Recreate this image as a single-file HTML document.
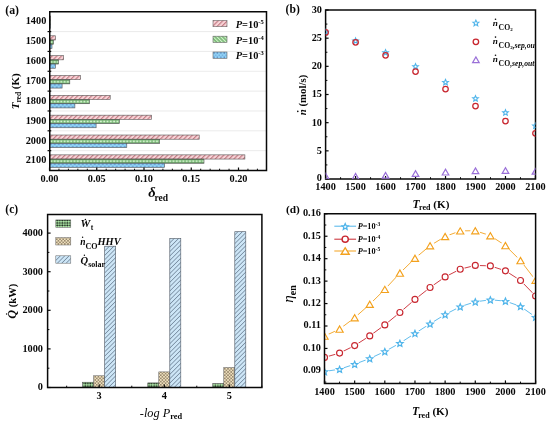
<!DOCTYPE html>
<html><head><meta charset="utf-8"><style>html,body{margin:0;padding:0;background:#fff;width:550px;height:424px;overflow:hidden}svg{display:block;filter:blur(0.4px);font-family:"Liberation Serif",serif}</style></head><body>
<svg width="550" height="424" viewBox="0 0 550 424" font-family="Liberation Serif">
<defs>
<pattern id="pinkH" patternUnits="userSpaceOnUse" width="3.3" height="3.3" patternTransform="rotate(45)"><rect width="3.3" height="3.3" fill="#f9d4d8"/><rect x="0" width="1.2" height="3.3" fill="#c27d85"/></pattern>
<pattern id="greenH" patternUnits="userSpaceOnUse" width="3.2" height="3.2" patternTransform="rotate(-45)"><rect width="3.2" height="3.2" fill="#8fcf8c"/><rect x="0" width="1.2" height="3.2" fill="#c9ecc4"/><rect x="0" y="0" width="3.2" height="0.9" fill="#5c9b5a"/></pattern>
<pattern id="blueD" patternUnits="userSpaceOnUse" width="4" height="3"><rect width="4" height="3" fill="#6cb8ee"/><circle cx="1" cy="1.2" r="0.6" fill="#2c5f9a"/><circle cx="3" cy="2.4" r="0.5" fill="#3a73b3"/></pattern>
<pattern id="greenL" patternUnits="userSpaceOnUse" width="2.7" height="2.7" patternTransform="rotate(-45)"><rect width="2.7" height="2.7" fill="#7dbb7a"/><rect x="0" width="1.0" height="2.7" fill="#d4f3cc"/></pattern>
<pattern id="blueL" patternUnits="userSpaceOnUse" x="213" y="52" width="3.4" height="6.3"><rect width="3.4" height="6.3" fill="#8fd0f4"/><circle cx="1" cy="0.9" r="0.6" fill="#2d4f9c"/><circle cx="2.7" cy="3.2" r="0.5" fill="#4a6fb0"/><circle cx="1" cy="5.4" r="0.6" fill="#2d4f9c"/></pattern>
<pattern id="cGreen" patternUnits="userSpaceOnUse" width="2.55" height="2.55"><rect width="2.55" height="2.55" fill="#b3eeac"/><rect x="0" y="0.7" width="2.55" height="0.7" fill="#344a34"/><rect x="0.75" y="0" width="0.5" height="2.55" fill="#4a5f4a"/><rect x="0.55" y="0.5" width="1.1" height="1.1" fill="#0a140a"/></pattern>
<pattern id="cTan" patternUnits="userSpaceOnUse" width="3.2" height="3.2"><rect width="3.2" height="3.2" fill="#f0e2bf"/><rect x="0" y="0" width="1.6" height="1.6" fill="#9a8a70"/><rect x="1.6" y="1.6" width="1.6" height="1.6" fill="#9a8a70"/></pattern>
<pattern id="cBlue" patternUnits="userSpaceOnUse" width="3.1" height="3.1" patternTransform="rotate(45)"><rect width="3.1" height="3.1" fill="#cde6f7"/><rect x="0" width="0.6" height="3.1" fill="#5f7388"/></pattern>
<clipPath id="clipB"><rect x="325.6" y="10" width="209.9" height="169"/></clipPath>
<clipPath id="clipD"><rect x="324.5" y="213.8" width="211.1" height="169.6"/></clipPath>
</defs>
<rect width="550" height="424" fill="#ffffff"/>
<line x1="49.75" y1="31.59" x2="266.5" y2="31.59" stroke="#e2e2e2" stroke-width="0.7" />
<line x1="49.75" y1="51.44" x2="266.5" y2="51.44" stroke="#e2e2e2" stroke-width="0.7" />
<line x1="49.75" y1="71.28" x2="266.5" y2="71.28" stroke="#e2e2e2" stroke-width="0.7" />
<line x1="49.75" y1="91.12" x2="266.5" y2="91.12" stroke="#e2e2e2" stroke-width="0.7" />
<line x1="49.75" y1="110.97" x2="266.5" y2="110.97" stroke="#e2e2e2" stroke-width="0.7" />
<line x1="49.75" y1="130.81" x2="266.5" y2="130.81" stroke="#e2e2e2" stroke-width="0.7" />
<line x1="49.75" y1="150.66" x2="266.5" y2="150.66" stroke="#e2e2e2" stroke-width="0.7" />
<pattern id="gk0" patternUnits="userSpaceOnUse" x="49.75" y="20.15" width="3.3" height="4.2"><rect width="3.3" height="4.2" fill="#86c183"/><rect width="3.3" height="0.7" fill="#4f7d4c"/><rect y="3.5" width="3.3" height="0.7" fill="#4f7d4c"/><ellipse cx="1.65" cy="2.1" rx="0.95" ry="0.75" fill="#d8f6d2"/></pattern>
<pattern id="bk0" patternUnits="userSpaceOnUse" x="49.75" y="24.35" width="4" height="4.2"><rect width="4" height="4.2" fill="#8dcff3"/><circle cx="1" cy="0.9" r="0.6" fill="#2d4f9c"/><circle cx="3" cy="3.3" r="0.6" fill="#2d4f9c"/></pattern>
<rect x="49.75" y="15.95" width="0.85" height="4.2" fill="url(#pinkH)" stroke="#555" stroke-width="0.6"/>
<rect x="49.75" y="20.15" width="0.65" height="4.2" fill="url(#gk0)" stroke="#555" stroke-width="0.6"/>
<rect x="49.75" y="24.35" width="0.55" height="4.2" fill="url(#bk0)" stroke="#555" stroke-width="0.6"/>
<pattern id="gk1" patternUnits="userSpaceOnUse" x="49.75" y="39.99" width="3.3" height="4.2"><rect width="3.3" height="4.2" fill="#86c183"/><rect width="3.3" height="0.7" fill="#4f7d4c"/><rect y="3.5" width="3.3" height="0.7" fill="#4f7d4c"/><ellipse cx="1.65" cy="2.1" rx="0.95" ry="0.75" fill="#d8f6d2"/></pattern>
<pattern id="bk1" patternUnits="userSpaceOnUse" x="49.75" y="44.19" width="4" height="4.2"><rect width="4" height="4.2" fill="#8dcff3"/><circle cx="1" cy="0.9" r="0.6" fill="#2d4f9c"/><circle cx="3" cy="3.3" r="0.6" fill="#2d4f9c"/></pattern>
<rect x="49.75" y="35.79" width="5.65" height="4.2" fill="url(#pinkH)" stroke="#555" stroke-width="0.6"/>
<rect x="49.75" y="39.99" width="3.75" height="4.2" fill="url(#gk1)" stroke="#555" stroke-width="0.6"/>
<rect x="49.75" y="44.19" width="2.25" height="4.2" fill="url(#bk1)" stroke="#555" stroke-width="0.6"/>
<pattern id="gk2" patternUnits="userSpaceOnUse" x="49.75" y="59.84" width="3.3" height="4.2"><rect width="3.3" height="4.2" fill="#86c183"/><rect width="3.3" height="0.7" fill="#4f7d4c"/><rect y="3.5" width="3.3" height="0.7" fill="#4f7d4c"/><ellipse cx="1.65" cy="2.1" rx="0.95" ry="0.75" fill="#d8f6d2"/></pattern>
<pattern id="bk2" patternUnits="userSpaceOnUse" x="49.75" y="64.04" width="4" height="4.2"><rect width="4" height="4.2" fill="#8dcff3"/><circle cx="1" cy="0.9" r="0.6" fill="#2d4f9c"/><circle cx="3" cy="3.3" r="0.6" fill="#2d4f9c"/></pattern>
<rect x="49.75" y="55.64" width="13.85" height="4.2" fill="url(#pinkH)" stroke="#555" stroke-width="0.6"/>
<rect x="49.75" y="59.84" width="8.85" height="4.2" fill="url(#gk2)" stroke="#555" stroke-width="0.6"/>
<rect x="49.75" y="64.04" width="5.65" height="4.2" fill="url(#bk2)" stroke="#555" stroke-width="0.6"/>
<pattern id="gk3" patternUnits="userSpaceOnUse" x="49.75" y="79.68" width="3.3" height="4.2"><rect width="3.3" height="4.2" fill="#86c183"/><rect width="3.3" height="0.7" fill="#4f7d4c"/><rect y="3.5" width="3.3" height="0.7" fill="#4f7d4c"/><ellipse cx="1.65" cy="2.1" rx="0.95" ry="0.75" fill="#d8f6d2"/></pattern>
<pattern id="bk3" patternUnits="userSpaceOnUse" x="49.75" y="83.88" width="4" height="4.2"><rect width="4" height="4.2" fill="#8dcff3"/><circle cx="1" cy="0.9" r="0.6" fill="#2d4f9c"/><circle cx="3" cy="3.3" r="0.6" fill="#2d4f9c"/></pattern>
<rect x="49.75" y="75.48" width="30.85" height="4.2" fill="url(#pinkH)" stroke="#555" stroke-width="0.6"/>
<rect x="49.75" y="79.68" width="20.05" height="4.2" fill="url(#gk3)" stroke="#555" stroke-width="0.6"/>
<rect x="49.75" y="83.88" width="12.35" height="4.2" fill="url(#bk3)" stroke="#555" stroke-width="0.6"/>
<pattern id="gk4" patternUnits="userSpaceOnUse" x="49.75" y="99.53" width="3.3" height="4.2"><rect width="3.3" height="4.2" fill="#86c183"/><rect width="3.3" height="0.7" fill="#4f7d4c"/><rect y="3.5" width="3.3" height="0.7" fill="#4f7d4c"/><ellipse cx="1.65" cy="2.1" rx="0.95" ry="0.75" fill="#d8f6d2"/></pattern>
<pattern id="bk4" patternUnits="userSpaceOnUse" x="49.75" y="103.72" width="4" height="4.2"><rect width="4" height="4.2" fill="#8dcff3"/><circle cx="1" cy="0.9" r="0.6" fill="#2d4f9c"/><circle cx="3" cy="3.3" r="0.6" fill="#2d4f9c"/></pattern>
<rect x="49.75" y="95.33" width="60.45" height="4.2" fill="url(#pinkH)" stroke="#555" stroke-width="0.6"/>
<rect x="49.75" y="99.53" width="39.75" height="4.2" fill="url(#gk4)" stroke="#555" stroke-width="0.6"/>
<rect x="49.75" y="103.72" width="25.15" height="4.2" fill="url(#bk4)" stroke="#555" stroke-width="0.6"/>
<pattern id="gk5" patternUnits="userSpaceOnUse" x="49.75" y="119.37" width="3.3" height="4.2"><rect width="3.3" height="4.2" fill="#86c183"/><rect width="3.3" height="0.7" fill="#4f7d4c"/><rect y="3.5" width="3.3" height="0.7" fill="#4f7d4c"/><ellipse cx="1.65" cy="2.1" rx="0.95" ry="0.75" fill="#d8f6d2"/></pattern>
<pattern id="bk5" patternUnits="userSpaceOnUse" x="49.75" y="123.57" width="4" height="4.2"><rect width="4" height="4.2" fill="#8dcff3"/><circle cx="1" cy="0.9" r="0.6" fill="#2d4f9c"/><circle cx="3" cy="3.3" r="0.6" fill="#2d4f9c"/></pattern>
<rect x="49.75" y="115.17" width="101.85" height="4.2" fill="url(#pinkH)" stroke="#555" stroke-width="0.6"/>
<rect x="49.75" y="119.37" width="69.65" height="4.2" fill="url(#gk5)" stroke="#555" stroke-width="0.6"/>
<rect x="49.75" y="123.57" width="46.35" height="4.2" fill="url(#bk5)" stroke="#555" stroke-width="0.6"/>
<pattern id="gk6" patternUnits="userSpaceOnUse" x="49.75" y="139.21" width="3.3" height="4.2"><rect width="3.3" height="4.2" fill="#86c183"/><rect width="3.3" height="0.7" fill="#4f7d4c"/><rect y="3.5" width="3.3" height="0.7" fill="#4f7d4c"/><ellipse cx="1.65" cy="2.1" rx="0.95" ry="0.75" fill="#d8f6d2"/></pattern>
<pattern id="bk6" patternUnits="userSpaceOnUse" x="49.75" y="143.41" width="4" height="4.2"><rect width="4" height="4.2" fill="#8dcff3"/><circle cx="1" cy="0.9" r="0.6" fill="#2d4f9c"/><circle cx="3" cy="3.3" r="0.6" fill="#2d4f9c"/></pattern>
<rect x="49.75" y="135.01" width="149.45" height="4.2" fill="url(#pinkH)" stroke="#555" stroke-width="0.6"/>
<rect x="49.75" y="139.21" width="109.95" height="4.2" fill="url(#gk6)" stroke="#555" stroke-width="0.6"/>
<rect x="49.75" y="143.41" width="77.05" height="4.2" fill="url(#bk6)" stroke="#555" stroke-width="0.6"/>
<pattern id="gk7" patternUnits="userSpaceOnUse" x="49.75" y="159.06" width="3.3" height="4.2"><rect width="3.3" height="4.2" fill="#86c183"/><rect width="3.3" height="0.7" fill="#4f7d4c"/><rect y="3.5" width="3.3" height="0.7" fill="#4f7d4c"/><ellipse cx="1.65" cy="2.1" rx="0.95" ry="0.75" fill="#d8f6d2"/></pattern>
<pattern id="bk7" patternUnits="userSpaceOnUse" x="49.75" y="163.26" width="4" height="4.2"><rect width="4" height="4.2" fill="#8dcff3"/><circle cx="1" cy="0.9" r="0.6" fill="#2d4f9c"/><circle cx="3" cy="3.3" r="0.6" fill="#2d4f9c"/></pattern>
<rect x="49.75" y="154.86" width="195.15" height="4.2" fill="url(#pinkH)" stroke="#555" stroke-width="0.6"/>
<rect x="49.75" y="159.06" width="154.25" height="4.2" fill="url(#gk7)" stroke="#555" stroke-width="0.6"/>
<rect x="49.75" y="163.26" width="114.85" height="4.2" fill="url(#bk7)" stroke="#555" stroke-width="0.6"/>
<line x1="47.55" y1="31.59" x2="51.25" y2="31.59" stroke="#080808" stroke-width="1.2" />
<line x1="47.55" y1="51.44" x2="51.25" y2="51.44" stroke="#080808" stroke-width="1.2" />
<line x1="47.55" y1="71.28" x2="51.25" y2="71.28" stroke="#080808" stroke-width="1.2" />
<line x1="47.55" y1="91.12" x2="51.25" y2="91.12" stroke="#080808" stroke-width="1.2" />
<line x1="47.55" y1="110.97" x2="51.25" y2="110.97" stroke="#080808" stroke-width="1.2" />
<line x1="47.55" y1="130.81" x2="51.25" y2="130.81" stroke="#080808" stroke-width="1.2" />
<line x1="47.55" y1="150.66" x2="51.25" y2="150.66" stroke="#080808" stroke-width="1.2" />
<text x="46.3" y="24.47" font-size="10.3" font-weight="bold" font-style="normal" text-anchor="end" fill="#080808" >1400</text>
<text x="46.3" y="44.32" font-size="10.3" font-weight="bold" font-style="normal" text-anchor="end" fill="#080808" >1500</text>
<text x="46.3" y="64.16" font-size="10.3" font-weight="bold" font-style="normal" text-anchor="end" fill="#080808" >1600</text>
<text x="46.3" y="84" font-size="10.3" font-weight="bold" font-style="normal" text-anchor="end" fill="#080808" >1700</text>
<text x="46.3" y="103.85" font-size="10.3" font-weight="bold" font-style="normal" text-anchor="end" fill="#080808" >1800</text>
<text x="46.3" y="123.69" font-size="10.3" font-weight="bold" font-style="normal" text-anchor="end" fill="#080808" >1900</text>
<text x="46.3" y="143.53" font-size="10.3" font-weight="bold" font-style="normal" text-anchor="end" fill="#080808" >2000</text>
<text x="46.3" y="163.38" font-size="10.3" font-weight="bold" font-style="normal" text-anchor="end" fill="#080808" >2100</text>
<line x1="49.5" y1="170.5" x2="49.5" y2="167.5" stroke="#080808" stroke-width="1.2" />
<line x1="58.95" y1="170.5" x2="58.95" y2="168.7" stroke="#080808" stroke-width="1.0" />
<line x1="68.4" y1="170.5" x2="68.4" y2="168.7" stroke="#080808" stroke-width="1.0" />
<line x1="77.85" y1="170.5" x2="77.85" y2="168.7" stroke="#080808" stroke-width="1.0" />
<line x1="87.3" y1="170.5" x2="87.3" y2="168.7" stroke="#080808" stroke-width="1.0" />
<line x1="96.75" y1="170.5" x2="96.75" y2="167.5" stroke="#080808" stroke-width="1.2" />
<line x1="106.2" y1="170.5" x2="106.2" y2="168.7" stroke="#080808" stroke-width="1.0" />
<line x1="115.65" y1="170.5" x2="115.65" y2="168.7" stroke="#080808" stroke-width="1.0" />
<line x1="125.1" y1="170.5" x2="125.1" y2="168.7" stroke="#080808" stroke-width="1.0" />
<line x1="134.55" y1="170.5" x2="134.55" y2="168.7" stroke="#080808" stroke-width="1.0" />
<line x1="144" y1="170.5" x2="144" y2="167.5" stroke="#080808" stroke-width="1.2" />
<line x1="153.45" y1="170.5" x2="153.45" y2="168.7" stroke="#080808" stroke-width="1.0" />
<line x1="162.9" y1="170.5" x2="162.9" y2="168.7" stroke="#080808" stroke-width="1.0" />
<line x1="172.35" y1="170.5" x2="172.35" y2="168.7" stroke="#080808" stroke-width="1.0" />
<line x1="181.8" y1="170.5" x2="181.8" y2="168.7" stroke="#080808" stroke-width="1.0" />
<line x1="191.25" y1="170.5" x2="191.25" y2="167.5" stroke="#080808" stroke-width="1.2" />
<line x1="200.7" y1="170.5" x2="200.7" y2="168.7" stroke="#080808" stroke-width="1.0" />
<line x1="210.15" y1="170.5" x2="210.15" y2="168.7" stroke="#080808" stroke-width="1.0" />
<line x1="219.6" y1="170.5" x2="219.6" y2="168.7" stroke="#080808" stroke-width="1.0" />
<line x1="229.05" y1="170.5" x2="229.05" y2="168.7" stroke="#080808" stroke-width="1.0" />
<line x1="238.5" y1="170.5" x2="238.5" y2="167.5" stroke="#080808" stroke-width="1.2" />
<line x1="247.95" y1="170.5" x2="247.95" y2="168.7" stroke="#080808" stroke-width="1.0" />
<line x1="257.4" y1="170.5" x2="257.4" y2="168.7" stroke="#080808" stroke-width="1.0" />
<text x="49.5" y="181.8" font-size="10.3" font-weight="bold" font-style="normal" text-anchor="middle" fill="#080808" >0.00</text>
<text x="96.75" y="181.8" font-size="10.3" font-weight="bold" font-style="normal" text-anchor="middle" fill="#080808" >0.05</text>
<text x="144" y="181.8" font-size="10.3" font-weight="bold" font-style="normal" text-anchor="middle" fill="#080808" >0.10</text>
<text x="191.25" y="181.8" font-size="10.3" font-weight="bold" font-style="normal" text-anchor="middle" fill="#080808" >0.15</text>
<text x="238.5" y="181.8" font-size="10.3" font-weight="bold" font-style="normal" text-anchor="middle" fill="#080808" >0.20</text>
<path d="M49.75,11.75 H266.5 V170.5 H49.75 Z" fill="none" stroke="#080808" stroke-width="1.5"/>
<rect x="213" y="20.4" width="14" height="6.3" fill="url(#pinkH)" stroke="#666" stroke-width="0.6"/>
<text x="235.7" y="27.8" font-size="10.4" font-weight="bold" font-style="normal" text-anchor="start" fill="#080808" ><tspan font-style="italic">P</tspan>=10<tspan font-size="6.5" dy="-4.0">-5</tspan></text>
<rect x="213" y="36.2" width="14" height="6.3" fill="url(#greenL)" stroke="#666" stroke-width="0.6"/>
<text x="235.7" y="43.6" font-size="10.4" font-weight="bold" font-style="normal" text-anchor="start" fill="#080808" ><tspan font-style="italic">P</tspan>=10<tspan font-size="6.5" dy="-4.0">-4</tspan></text>
<rect x="213" y="52.0" width="14" height="6.3" fill="url(#blueL)" stroke="#666" stroke-width="0.6"/>
<text x="235.7" y="59.4" font-size="10.4" font-weight="bold" font-style="normal" text-anchor="start" fill="#080808" ><tspan font-style="italic">P</tspan>=10<tspan font-size="6.5" dy="-4.0">-3</tspan></text>
<text x="5.3" y="13.7" font-size="11.8" font-weight="bold" font-style="normal" text-anchor="start" fill="#080808" >(a)</text>
<text transform="translate(18.7,91.3) rotate(-90)" text-anchor="middle" font-size="11" font-weight="bold" fill="#080808"><tspan font-style="italic">T</tspan><tspan font-size="7.5" dy="2.5">red</tspan><tspan dy="-2.5"> (K)</tspan></text>
<text x="148.3" y="197" font-size="14.5" font-weight="bold" font-style="italic" fill="#080808">δ<tspan font-size="9.5" font-style="normal" dy="3.9" dx="-1.2">red</tspan></text>
<line x1="325.6" y1="179" x2="325.6" y2="176" stroke="#080808" stroke-width="1.2" />
<line x1="340.59" y1="179" x2="340.59" y2="177.2" stroke="#080808" stroke-width="1.0" />
<line x1="355.58" y1="179" x2="355.58" y2="176" stroke="#080808" stroke-width="1.2" />
<line x1="370.57" y1="179" x2="370.57" y2="177.2" stroke="#080808" stroke-width="1.0" />
<line x1="385.56" y1="179" x2="385.56" y2="176" stroke="#080808" stroke-width="1.2" />
<line x1="400.55" y1="179" x2="400.55" y2="177.2" stroke="#080808" stroke-width="1.0" />
<line x1="415.54" y1="179" x2="415.54" y2="176" stroke="#080808" stroke-width="1.2" />
<line x1="430.53" y1="179" x2="430.53" y2="177.2" stroke="#080808" stroke-width="1.0" />
<line x1="445.52" y1="179" x2="445.52" y2="176" stroke="#080808" stroke-width="1.2" />
<line x1="460.51" y1="179" x2="460.51" y2="177.2" stroke="#080808" stroke-width="1.0" />
<line x1="475.5" y1="179" x2="475.5" y2="176" stroke="#080808" stroke-width="1.2" />
<line x1="490.49" y1="179" x2="490.49" y2="177.2" stroke="#080808" stroke-width="1.0" />
<line x1="505.48" y1="179" x2="505.48" y2="176" stroke="#080808" stroke-width="1.2" />
<line x1="520.47" y1="179" x2="520.47" y2="177.2" stroke="#080808" stroke-width="1.0" />
<line x1="535.46" y1="179" x2="535.46" y2="176" stroke="#080808" stroke-width="1.2" />
<line x1="325.6" y1="179" x2="328.6" y2="179" stroke="#080808" stroke-width="1.2" />
<line x1="325.6" y1="164.92" x2="327.4" y2="164.92" stroke="#080808" stroke-width="1.0" />
<line x1="325.6" y1="150.84" x2="328.6" y2="150.84" stroke="#080808" stroke-width="1.2" />
<line x1="325.6" y1="136.75" x2="327.4" y2="136.75" stroke="#080808" stroke-width="1.0" />
<line x1="325.6" y1="122.67" x2="328.6" y2="122.67" stroke="#080808" stroke-width="1.2" />
<line x1="325.6" y1="108.59" x2="327.4" y2="108.59" stroke="#080808" stroke-width="1.0" />
<line x1="325.6" y1="94.5" x2="328.6" y2="94.5" stroke="#080808" stroke-width="1.2" />
<line x1="325.6" y1="80.42" x2="327.4" y2="80.42" stroke="#080808" stroke-width="1.0" />
<line x1="325.6" y1="66.34" x2="328.6" y2="66.34" stroke="#080808" stroke-width="1.2" />
<line x1="325.6" y1="52.26" x2="327.4" y2="52.26" stroke="#080808" stroke-width="1.0" />
<line x1="325.6" y1="38.18" x2="328.6" y2="38.18" stroke="#080808" stroke-width="1.2" />
<line x1="325.6" y1="24.09" x2="327.4" y2="24.09" stroke="#080808" stroke-width="1.0" />
<line x1="325.6" y1="10.01" x2="328.6" y2="10.01" stroke="#080808" stroke-width="1.2" />
<text x="322" y="153.74" font-size="10.3" font-weight="bold" font-style="normal" text-anchor="end" fill="#080808" >5</text>
<text x="322" y="125.57" font-size="10.3" font-weight="bold" font-style="normal" text-anchor="end" fill="#080808" >10</text>
<text x="322" y="97.41" font-size="10.3" font-weight="bold" font-style="normal" text-anchor="end" fill="#080808" >15</text>
<text x="322" y="69.24" font-size="10.3" font-weight="bold" font-style="normal" text-anchor="end" fill="#080808" >20</text>
<text x="322" y="41.08" font-size="10.3" font-weight="bold" font-style="normal" text-anchor="end" fill="#080808" >25</text>
<text x="322" y="12.91" font-size="10.3" font-weight="bold" font-style="normal" text-anchor="end" fill="#080808" >30</text>
<text x="322" y="180.6" font-size="10.3" font-weight="bold" font-style="normal" text-anchor="end" fill="#080808" >0</text>
<text x="325.6" y="190.3" font-size="10.3" font-weight="bold" font-style="normal" text-anchor="middle" fill="#080808" >1400</text>
<text x="355.58" y="190.3" font-size="10.3" font-weight="bold" font-style="normal" text-anchor="middle" fill="#080808" >1500</text>
<text x="385.56" y="190.3" font-size="10.3" font-weight="bold" font-style="normal" text-anchor="middle" fill="#080808" >1600</text>
<text x="415.54" y="190.3" font-size="10.3" font-weight="bold" font-style="normal" text-anchor="middle" fill="#080808" >1700</text>
<text x="445.52" y="190.3" font-size="10.3" font-weight="bold" font-style="normal" text-anchor="middle" fill="#080808" >1800</text>
<text x="475.5" y="190.3" font-size="10.3" font-weight="bold" font-style="normal" text-anchor="middle" fill="#080808" >1900</text>
<text x="505.48" y="190.3" font-size="10.3" font-weight="bold" font-style="normal" text-anchor="middle" fill="#080808" >2000</text>
<text x="535.46" y="190.3" font-size="10.3" font-weight="bold" font-style="normal" text-anchor="middle" fill="#080808" >2100</text>
<path d="M325.6,10.0 H535.5 V179.0 H325.6 Z" fill="none" stroke="#080808" stroke-width="1.5"/>
<g clip-path="url(#clipB)">
<path d="M325.60,29.10 L326.39,31.01 L328.45,31.17 L326.88,32.52 L327.36,34.53 L325.60,33.45 L323.84,34.53 L324.32,32.52 L322.75,31.17 L324.81,31.01Z" fill="none" stroke="#4fb4ea" stroke-width="1.1" stroke-linejoin="miter"/>
<path d="M355.58,38.00 L356.37,39.91 L358.43,40.07 L356.86,41.42 L357.34,43.43 L355.58,42.35 L353.82,43.43 L354.30,41.42 L352.73,40.07 L354.79,39.91Z" fill="none" stroke="#4fb4ea" stroke-width="1.1" stroke-linejoin="miter"/>
<path d="M385.56,49.60 L386.35,51.51 L388.41,51.67 L386.84,53.02 L387.32,55.03 L385.56,53.95 L383.80,55.03 L384.28,53.02 L382.71,51.67 L384.77,51.51Z" fill="none" stroke="#4fb4ea" stroke-width="1.1" stroke-linejoin="miter"/>
<path d="M415.54,63.60 L416.33,65.51 L418.39,65.67 L416.82,67.02 L417.30,69.03 L415.54,67.95 L413.78,69.03 L414.26,67.02 L412.69,65.67 L414.75,65.51Z" fill="none" stroke="#4fb4ea" stroke-width="1.1" stroke-linejoin="miter"/>
<path d="M445.52,79.40 L446.31,81.31 L448.37,81.47 L446.80,82.82 L447.28,84.83 L445.52,83.75 L443.76,84.83 L444.24,82.82 L442.67,81.47 L444.73,81.31Z" fill="none" stroke="#4fb4ea" stroke-width="1.1" stroke-linejoin="miter"/>
<path d="M475.50,95.60 L476.29,97.51 L478.35,97.67 L476.78,99.02 L477.26,101.03 L475.50,99.95 L473.74,101.03 L474.22,99.02 L472.65,97.67 L474.71,97.51Z" fill="none" stroke="#4fb4ea" stroke-width="1.1" stroke-linejoin="miter"/>
<path d="M505.48,109.70 L506.27,111.61 L508.33,111.77 L506.76,113.12 L507.24,115.13 L505.48,114.05 L503.72,115.13 L504.20,113.12 L502.63,111.77 L504.69,111.61Z" fill="none" stroke="#4fb4ea" stroke-width="1.1" stroke-linejoin="miter"/>
<path d="M535.46,122.90 L536.25,124.81 L538.31,124.97 L536.74,126.32 L537.22,128.33 L535.46,127.25 L533.70,128.33 L534.18,126.32 L532.61,124.97 L534.67,124.81Z" fill="none" stroke="#4fb4ea" stroke-width="1.1" stroke-linejoin="miter"/>
<circle cx="325.6" cy="32.4" r="2.75" fill="none" stroke="#c8262f" stroke-width="1.25"/>
<circle cx="355.58" cy="42.3" r="2.75" fill="none" stroke="#c8262f" stroke-width="1.25"/>
<circle cx="385.56" cy="55.3" r="2.75" fill="none" stroke="#c8262f" stroke-width="1.25"/>
<circle cx="415.54" cy="71.5" r="2.75" fill="none" stroke="#c8262f" stroke-width="1.25"/>
<circle cx="445.52" cy="89.1" r="2.75" fill="none" stroke="#c8262f" stroke-width="1.25"/>
<circle cx="475.5" cy="106" r="2.75" fill="none" stroke="#c8262f" stroke-width="1.25"/>
<circle cx="505.48" cy="121" r="2.75" fill="none" stroke="#c8262f" stroke-width="1.25"/>
<circle cx="535.46" cy="133.3" r="2.75" fill="none" stroke="#c8262f" stroke-width="1.25"/>
<path d="M322.30,178.90 L328.90,178.90 L325.60,173.10Z" fill="none" stroke="#9a70d8" stroke-width="1.2" stroke-linejoin="miter"/>
<path d="M352.28,179.30 L358.88,179.30 L355.58,173.50Z" fill="none" stroke="#9a70d8" stroke-width="1.2" stroke-linejoin="miter"/>
<path d="M382.26,178.20 L388.86,178.20 L385.56,172.40Z" fill="none" stroke="#9a70d8" stroke-width="1.2" stroke-linejoin="miter"/>
<path d="M412.24,176.40 L418.84,176.40 L415.54,170.60Z" fill="none" stroke="#9a70d8" stroke-width="1.2" stroke-linejoin="miter"/>
<path d="M442.22,175.00 L448.82,175.00 L445.52,169.20Z" fill="none" stroke="#9a70d8" stroke-width="1.2" stroke-linejoin="miter"/>
<path d="M472.20,173.70 L478.80,173.70 L475.50,167.90Z" fill="none" stroke="#9a70d8" stroke-width="1.2" stroke-linejoin="miter"/>
<path d="M502.18,173.40 L508.78,173.40 L505.48,167.60Z" fill="none" stroke="#9a70d8" stroke-width="1.2" stroke-linejoin="miter"/>
<path d="M532.16,174.20 L538.76,174.20 L535.46,168.40Z" fill="none" stroke="#9a70d8" stroke-width="1.2" stroke-linejoin="miter"/>
</g>
<path d="M475.90,20.11 L476.72,22.08 L478.85,22.25 L477.23,23.64 L477.72,25.72 L475.90,24.60 L474.08,25.72 L474.57,23.64 L472.95,22.25 L475.08,22.08Z" fill="none" stroke="#4fb4ea" stroke-width="1.1" stroke-linejoin="miter"/>
<circle cx="475.9" cy="41.8" r="2.75" fill="none" stroke="#c8262f" stroke-width="1.3"/>
<path d="M472.60,62.70 L479.20,62.70 L475.90,56.90Z" fill="none" stroke="#9a70d8" stroke-width="1.2" stroke-linejoin="miter"/>
<g clip-path="url(#clipB)">
<text x="492.8" y="25.8" font-size="9.2" font-weight="bold" font-style="italic" fill="#080808">n</text>
<circle cx="495.50" cy="19.20" r="0.8" fill="#080808"/>
<text x="498.60" y="29.70" font-size="7.7" font-weight="bold" fill="#080808"><tspan>CO</tspan><tspan font-size="5" dy="1.4">2</tspan><tspan dy="-1.4" font-style="italic"></tspan></text>
<text x="492.8" y="43.7" font-size="9.2" font-weight="bold" font-style="italic" fill="#080808">n</text>
<circle cx="495.50" cy="37.10" r="0.8" fill="#080808"/>
<text x="498.60" y="47.60" font-size="7.7" font-weight="bold" fill="#080808"><tspan>CO</tspan><tspan font-size="5" dy="1.4">2</tspan><tspan dy="-1.4" font-style="italic">,sep,out</tspan></text>
<text x="492.8" y="61.9" font-size="9.2" font-weight="bold" font-style="italic" fill="#080808">n</text>
<circle cx="495.50" cy="55.30" r="0.8" fill="#080808"/>
<text x="498.60" y="65.80" font-size="7.7" font-weight="bold" fill="#080808"><tspan>CO<tspan font-style="italic">,sep,out</tspan></tspan></text>
</g>
<text x="285.6" y="12.7" font-size="11.6" font-weight="bold" font-style="normal" text-anchor="start" fill="#080808" >(b)</text>
<text transform="translate(306,95) rotate(-90)" text-anchor="middle" font-size="10.8" font-weight="bold" fill="#080808"><tspan font-style="italic">n</tspan> (mol/s)</text>
<circle cx="297.8" cy="111.4" r="0.8" fill="#080808"/>
<text x="412.6" y="207.8" font-size="11.6" font-weight="bold" fill="#080808"><tspan font-style="italic">T</tspan><tspan font-size="8" dy="2.6" dx="-0.6">red</tspan><tspan dy="-2.6" font-size="11.2"> (K)</tspan></text>
<rect x="82.7" y="382.2" width="11" height="5.3" fill="url(#cGreen)" stroke="#3a3a3a" stroke-width="0.5"/>
<rect x="93.7" y="375.8" width="11" height="11.7" fill="url(#cTan)" stroke="#555" stroke-width="0.5"/>
<rect x="104.7" y="246.2" width="11" height="141.3" fill="url(#cBlue)" stroke="#4d5560" stroke-width="0.6"/>
<rect x="147.8" y="382.9" width="11" height="4.6" fill="url(#cGreen)" stroke="#3a3a3a" stroke-width="0.5"/>
<rect x="158.8" y="371.9" width="11" height="15.6" fill="url(#cTan)" stroke="#555" stroke-width="0.5"/>
<rect x="169.8" y="238.5" width="11" height="149" fill="url(#cBlue)" stroke="#4d5560" stroke-width="0.6"/>
<rect x="212.8" y="383.6" width="11" height="3.9" fill="url(#cGreen)" stroke="#3a3a3a" stroke-width="0.5"/>
<rect x="223.8" y="367.6" width="11" height="19.9" fill="url(#cTan)" stroke="#555" stroke-width="0.5"/>
<rect x="234.8" y="231.7" width="11" height="155.8" fill="url(#cBlue)" stroke="#4d5560" stroke-width="0.6"/>
<line x1="47.6" y1="387.5" x2="50.6" y2="387.5" stroke="#080808" stroke-width="1.2" />
<line x1="47.6" y1="368.2" x2="49.4" y2="368.2" stroke="#080808" stroke-width="1.0" />
<line x1="47.6" y1="348.9" x2="50.6" y2="348.9" stroke="#080808" stroke-width="1.2" />
<line x1="47.6" y1="329.6" x2="49.4" y2="329.6" stroke="#080808" stroke-width="1.0" />
<line x1="47.6" y1="310.3" x2="50.6" y2="310.3" stroke="#080808" stroke-width="1.2" />
<line x1="47.6" y1="291" x2="49.4" y2="291" stroke="#080808" stroke-width="1.0" />
<line x1="47.6" y1="271.7" x2="50.6" y2="271.7" stroke="#080808" stroke-width="1.2" />
<line x1="47.6" y1="252.4" x2="49.4" y2="252.4" stroke="#080808" stroke-width="1.0" />
<line x1="47.6" y1="233.1" x2="50.6" y2="233.1" stroke="#080808" stroke-width="1.2" />
<text x="43" y="352" font-size="10.3" font-weight="bold" font-style="normal" text-anchor="end" fill="#080808" >1000</text>
<text x="43" y="313.4" font-size="10.3" font-weight="bold" font-style="normal" text-anchor="end" fill="#080808" >2000</text>
<text x="43" y="274.8" font-size="10.3" font-weight="bold" font-style="normal" text-anchor="end" fill="#080808" >3000</text>
<text x="43" y="236.2" font-size="10.3" font-weight="bold" font-style="normal" text-anchor="end" fill="#080808" >4000</text>
<text x="43" y="390.3" font-size="10.3" font-weight="bold" font-style="normal" text-anchor="end" fill="#080808" >0</text>
<line x1="99.2" y1="387.5" x2="99.2" y2="384.5" stroke="#080808" stroke-width="1.2" />
<line x1="164.3" y1="387.5" x2="164.3" y2="384.5" stroke="#080808" stroke-width="1.2" />
<line x1="229.3" y1="387.5" x2="229.3" y2="384.5" stroke="#080808" stroke-width="1.2" />
<line x1="66.67" y1="387.5" x2="66.67" y2="385.7" stroke="#080808" stroke-width="1.0" />
<line x1="131.77" y1="387.5" x2="131.77" y2="385.7" stroke="#080808" stroke-width="1.0" />
<line x1="196.77" y1="387.5" x2="196.77" y2="385.7" stroke="#080808" stroke-width="1.0" />
<line x1="261.83" y1="387.5" x2="261.83" y2="385.7" stroke="#080808" stroke-width="1.0" />
<text x="99.2" y="398.9" font-size="10.3" font-weight="bold" font-style="normal" text-anchor="middle" fill="#080808" >3</text>
<text x="164.3" y="398.9" font-size="10.3" font-weight="bold" font-style="normal" text-anchor="middle" fill="#080808" >4</text>
<text x="229.3" y="398.9" font-size="10.3" font-weight="bold" font-style="normal" text-anchor="middle" fill="#080808" >5</text>
<path d="M47.6,214.5 H261.9 V387.5 H47.6 Z" fill="none" stroke="#080808" stroke-width="1.5"/>
<rect x="55.8" y="219.9" width="15" height="7.4" fill="url(#cGreen)" stroke="#666" stroke-width="0.5"/>
<rect x="55.8" y="237.6" width="15" height="7.4" fill="url(#cTan)" stroke="#666" stroke-width="0.5"/>
<rect x="55.8" y="255.8" width="15" height="7.4" fill="url(#cBlue)" stroke="#666" stroke-width="0.5"/>
<text x="80.6" y="227.3" font-size="11" font-weight="bold" font-style="italic" fill="#080808">W<tspan font-size="7.5" font-style="normal" dy="2.9" dx="0.3">t</tspan></text>
<circle cx="85.4" cy="219.4" r="0.75" fill="#080808"/>
<text x="80.2" y="245.4" font-size="9.5" font-weight="bold" font-style="italic" fill="#080808">n<tspan font-size="8" font-style="normal" dy="4">CO</tspan><tspan font-size="10.4" font-style="italic" dy="-4">HHV</tspan></text>
<circle cx="82.6" cy="237.3" r="0.7" fill="#080808"/>
<text x="80.6" y="263.6" font-size="10.5" font-weight="bold" font-style="italic" fill="#080808">Q<tspan font-size="8" font-style="normal" dy="3.6">solar</tspan></text>
<circle cx="84.4" cy="255.2" r="0.7" fill="#080808"/>
<text x="5.3" y="213.3" font-size="11.6" font-weight="bold" font-style="normal" text-anchor="start" fill="#080808" >(c)</text>
<text transform="translate(15.6,301.2) rotate(-90)" text-anchor="middle" font-size="10.6" font-weight="bold" fill="#080808"><tspan font-style="italic" font-size="12.2">Q</tspan> (kW)</text>
<circle cx="6.6" cy="313.9" r="0.75" fill="#080808"/>
<text x="139.8" y="417.3" font-size="12.3" font-weight="normal" fill="#080808"><tspan font-style="italic">-log P</tspan><tspan font-size="8.3" font-weight="bold" dy="2">red</tspan></text>
<line x1="324.5" y1="383.4" x2="324.5" y2="380.4" stroke="#080808" stroke-width="1.2" />
<line x1="339.58" y1="383.4" x2="339.58" y2="381.6" stroke="#080808" stroke-width="1.0" />
<line x1="354.66" y1="383.4" x2="354.66" y2="380.4" stroke="#080808" stroke-width="1.2" />
<line x1="369.74" y1="383.4" x2="369.74" y2="381.6" stroke="#080808" stroke-width="1.0" />
<line x1="384.81" y1="383.4" x2="384.81" y2="380.4" stroke="#080808" stroke-width="1.2" />
<line x1="399.89" y1="383.4" x2="399.89" y2="381.6" stroke="#080808" stroke-width="1.0" />
<line x1="414.97" y1="383.4" x2="414.97" y2="380.4" stroke="#080808" stroke-width="1.2" />
<line x1="430.05" y1="383.4" x2="430.05" y2="381.6" stroke="#080808" stroke-width="1.0" />
<line x1="445.13" y1="383.4" x2="445.13" y2="380.4" stroke="#080808" stroke-width="1.2" />
<line x1="460.21" y1="383.4" x2="460.21" y2="381.6" stroke="#080808" stroke-width="1.0" />
<line x1="475.29" y1="383.4" x2="475.29" y2="380.4" stroke="#080808" stroke-width="1.2" />
<line x1="490.36" y1="383.4" x2="490.36" y2="381.6" stroke="#080808" stroke-width="1.0" />
<line x1="505.44" y1="383.4" x2="505.44" y2="380.4" stroke="#080808" stroke-width="1.2" />
<line x1="520.52" y1="383.4" x2="520.52" y2="381.6" stroke="#080808" stroke-width="1.0" />
<line x1="535.6" y1="383.4" x2="535.6" y2="380.4" stroke="#080808" stroke-width="1.2" />
<line x1="324.5" y1="213.8" x2="327.5" y2="213.8" stroke="#080808" stroke-width="1.2" />
<line x1="324.5" y1="225.02" x2="326.3" y2="225.02" stroke="#080808" stroke-width="1.0" />
<line x1="324.5" y1="236.24" x2="327.5" y2="236.24" stroke="#080808" stroke-width="1.2" />
<line x1="324.5" y1="247.46" x2="326.3" y2="247.46" stroke="#080808" stroke-width="1.0" />
<line x1="324.5" y1="258.68" x2="327.5" y2="258.68" stroke="#080808" stroke-width="1.2" />
<line x1="324.5" y1="269.9" x2="326.3" y2="269.9" stroke="#080808" stroke-width="1.0" />
<line x1="324.5" y1="281.12" x2="327.5" y2="281.12" stroke="#080808" stroke-width="1.2" />
<line x1="324.5" y1="292.34" x2="326.3" y2="292.34" stroke="#080808" stroke-width="1.0" />
<line x1="324.5" y1="303.56" x2="327.5" y2="303.56" stroke="#080808" stroke-width="1.2" />
<line x1="324.5" y1="314.78" x2="326.3" y2="314.78" stroke="#080808" stroke-width="1.0" />
<line x1="324.5" y1="326" x2="327.5" y2="326" stroke="#080808" stroke-width="1.2" />
<line x1="324.5" y1="337.22" x2="326.3" y2="337.22" stroke="#080808" stroke-width="1.0" />
<line x1="324.5" y1="348.44" x2="327.5" y2="348.44" stroke="#080808" stroke-width="1.2" />
<line x1="324.5" y1="359.66" x2="326.3" y2="359.66" stroke="#080808" stroke-width="1.0" />
<line x1="324.5" y1="370.88" x2="327.5" y2="370.88" stroke="#080808" stroke-width="1.2" />
<line x1="324.5" y1="382.1" x2="326.3" y2="382.1" stroke="#080808" stroke-width="1.0" />
<text x="321" y="216.2" font-size="10.3" font-weight="bold" font-style="normal" text-anchor="end" fill="#080808" >0.16</text>
<text x="321" y="238.64" font-size="10.3" font-weight="bold" font-style="normal" text-anchor="end" fill="#080808" >0.15</text>
<text x="321" y="261.08" font-size="10.3" font-weight="bold" font-style="normal" text-anchor="end" fill="#080808" >0.14</text>
<text x="321" y="283.52" font-size="10.3" font-weight="bold" font-style="normal" text-anchor="end" fill="#080808" >0.13</text>
<text x="321" y="305.96" font-size="10.3" font-weight="bold" font-style="normal" text-anchor="end" fill="#080808" >0.12</text>
<text x="321" y="328.4" font-size="10.3" font-weight="bold" font-style="normal" text-anchor="end" fill="#080808" >0.11</text>
<text x="321" y="350.84" font-size="10.3" font-weight="bold" font-style="normal" text-anchor="end" fill="#080808" >0.10</text>
<text x="321" y="373.28" font-size="10.3" font-weight="bold" font-style="normal" text-anchor="end" fill="#080808" >0.09</text>
<text x="324.5" y="395.2" font-size="10.3" font-weight="bold" font-style="normal" text-anchor="middle" fill="#080808" >1400</text>
<text x="354.66" y="395.2" font-size="10.3" font-weight="bold" font-style="normal" text-anchor="middle" fill="#080808" >1500</text>
<text x="384.81" y="395.2" font-size="10.3" font-weight="bold" font-style="normal" text-anchor="middle" fill="#080808" >1600</text>
<text x="414.97" y="395.2" font-size="10.3" font-weight="bold" font-style="normal" text-anchor="middle" fill="#080808" >1700</text>
<text x="445.13" y="395.2" font-size="10.3" font-weight="bold" font-style="normal" text-anchor="middle" fill="#080808" >1800</text>
<text x="475.29" y="395.2" font-size="10.3" font-weight="bold" font-style="normal" text-anchor="middle" fill="#080808" >1900</text>
<text x="505.44" y="395.2" font-size="10.3" font-weight="bold" font-style="normal" text-anchor="middle" fill="#080808" >2000</text>
<text x="535.6" y="395.2" font-size="10.3" font-weight="bold" font-style="normal" text-anchor="middle" fill="#080808" >2100</text>
<g clip-path="url(#clipD)">
<polyline points="324.50,371.50 339.58,369.20 354.66,364.20 369.74,358.50 384.81,351.50 399.89,343.20 414.97,333.40 430.05,323.80 445.13,314.50 460.21,306.70 475.29,301.80 490.36,299.80 505.44,301.10 520.52,306.40 535.60,317.10" fill="none" stroke="#4fb4ea" stroke-width="0.9"/>
<polyline points="324.50,357.40 339.58,353.10 354.66,345.60 369.74,335.90 384.81,324.90 399.89,312.50 414.97,299.40 430.05,287.50 445.13,276.90 460.21,269.20 475.29,265.40 490.36,265.90 505.44,270.80 520.52,280.50 535.60,296.00" fill="none" stroke="#c8262f" stroke-width="0.9"/>
<polyline points="324.50,336.10 339.58,329.10 354.66,317.70 369.74,304.30 384.81,289.40 399.89,273.10 414.97,258.30 430.05,245.70 445.13,236.50 460.21,230.90 475.29,230.70 490.36,235.70 505.44,245.60 520.52,260.60 535.60,280.20" fill="none" stroke="#f3a11d" stroke-width="0.9"/>
<circle cx="324.50" cy="371.50" r="4.6" fill="white"/>
<circle cx="339.58" cy="369.20" r="4.6" fill="white"/>
<circle cx="354.66" cy="364.20" r="4.6" fill="white"/>
<circle cx="369.74" cy="358.50" r="4.6" fill="white"/>
<circle cx="384.81" cy="351.50" r="4.6" fill="white"/>
<circle cx="399.89" cy="343.20" r="4.6" fill="white"/>
<circle cx="414.97" cy="333.40" r="4.6" fill="white"/>
<circle cx="430.05" cy="323.80" r="4.6" fill="white"/>
<circle cx="445.13" cy="314.50" r="4.6" fill="white"/>
<circle cx="460.21" cy="306.70" r="4.6" fill="white"/>
<circle cx="475.29" cy="301.80" r="4.6" fill="white"/>
<circle cx="490.36" cy="299.80" r="4.6" fill="white"/>
<circle cx="505.44" cy="301.10" r="4.6" fill="white"/>
<circle cx="520.52" cy="306.40" r="4.6" fill="white"/>
<circle cx="535.60" cy="317.10" r="4.6" fill="white"/>
<circle cx="324.50" cy="357.40" r="4.6" fill="white"/>
<circle cx="339.58" cy="353.10" r="4.6" fill="white"/>
<circle cx="354.66" cy="345.60" r="4.6" fill="white"/>
<circle cx="369.74" cy="335.90" r="4.6" fill="white"/>
<circle cx="384.81" cy="324.90" r="4.6" fill="white"/>
<circle cx="399.89" cy="312.50" r="4.6" fill="white"/>
<circle cx="414.97" cy="299.40" r="4.6" fill="white"/>
<circle cx="430.05" cy="287.50" r="4.6" fill="white"/>
<circle cx="445.13" cy="276.90" r="4.6" fill="white"/>
<circle cx="460.21" cy="269.20" r="4.6" fill="white"/>
<circle cx="475.29" cy="265.40" r="4.6" fill="white"/>
<circle cx="490.36" cy="265.90" r="4.6" fill="white"/>
<circle cx="505.44" cy="270.80" r="4.6" fill="white"/>
<circle cx="520.52" cy="280.50" r="4.6" fill="white"/>
<circle cx="535.60" cy="296.00" r="4.6" fill="white"/>
<circle cx="324.50" cy="336.70" r="5.0" fill="white"/>
<circle cx="339.58" cy="329.70" r="5.0" fill="white"/>
<circle cx="354.66" cy="318.30" r="5.0" fill="white"/>
<circle cx="369.74" cy="304.90" r="5.0" fill="white"/>
<circle cx="384.81" cy="290.00" r="5.0" fill="white"/>
<circle cx="399.89" cy="273.70" r="5.0" fill="white"/>
<circle cx="414.97" cy="258.90" r="5.0" fill="white"/>
<circle cx="430.05" cy="246.30" r="5.0" fill="white"/>
<circle cx="445.13" cy="237.10" r="5.0" fill="white"/>
<circle cx="460.21" cy="231.50" r="5.0" fill="white"/>
<circle cx="475.29" cy="231.30" r="5.0" fill="white"/>
<circle cx="490.36" cy="236.30" r="5.0" fill="white"/>
<circle cx="505.44" cy="246.20" r="5.0" fill="white"/>
<circle cx="520.52" cy="261.20" r="5.0" fill="white"/>
<circle cx="535.60" cy="280.80" r="5.0" fill="white"/>
<path d="M324.50,368.50 L325.40,370.66 L327.73,370.85 L325.96,372.37 L326.50,374.65 L324.50,373.43 L322.50,374.65 L323.04,372.37 L321.27,370.85 L323.60,370.66Z" fill="white" stroke="#4fb4ea" stroke-width="1.2"/>
<path d="M339.58,366.20 L340.48,368.36 L342.81,368.55 L341.03,370.07 L341.58,372.35 L339.58,371.13 L337.58,372.35 L338.12,370.07 L336.34,368.55 L338.68,368.36Z" fill="white" stroke="#4fb4ea" stroke-width="1.2"/>
<path d="M354.66,361.20 L355.56,363.36 L357.89,363.55 L356.11,365.07 L356.66,367.35 L354.66,366.13 L352.66,367.35 L353.20,365.07 L351.42,363.55 L353.76,363.36Z" fill="white" stroke="#4fb4ea" stroke-width="1.2"/>
<path d="M369.74,355.50 L370.64,357.66 L372.97,357.85 L371.19,359.37 L371.73,361.65 L369.74,360.43 L367.74,361.65 L368.28,359.37 L366.50,357.85 L368.84,357.66Z" fill="white" stroke="#4fb4ea" stroke-width="1.2"/>
<path d="M384.81,348.50 L385.71,350.66 L388.05,350.85 L386.27,352.37 L386.81,354.65 L384.81,353.43 L382.82,354.65 L383.36,352.37 L381.58,350.85 L383.91,350.66Z" fill="white" stroke="#4fb4ea" stroke-width="1.2"/>
<path d="M399.89,340.20 L400.79,342.36 L403.13,342.55 L401.35,344.07 L401.89,346.35 L399.89,345.13 L397.89,346.35 L398.44,344.07 L396.66,342.55 L398.99,342.36Z" fill="white" stroke="#4fb4ea" stroke-width="1.2"/>
<path d="M414.97,330.40 L415.87,332.56 L418.21,332.75 L416.43,334.27 L416.97,336.55 L414.97,335.33 L412.97,336.55 L413.52,334.27 L411.74,332.75 L414.07,332.56Z" fill="white" stroke="#4fb4ea" stroke-width="1.2"/>
<path d="M430.05,320.80 L430.95,322.96 L433.28,323.15 L431.51,324.67 L432.05,326.95 L430.05,325.73 L428.05,326.95 L428.59,324.67 L426.82,323.15 L429.15,322.96Z" fill="white" stroke="#4fb4ea" stroke-width="1.2"/>
<path d="M445.13,311.50 L446.03,313.66 L448.36,313.85 L446.58,315.37 L447.13,317.65 L445.13,316.43 L443.13,317.65 L443.67,315.37 L441.89,313.85 L444.23,313.66Z" fill="white" stroke="#4fb4ea" stroke-width="1.2"/>
<path d="M460.21,303.70 L461.11,305.86 L463.44,306.05 L461.66,307.57 L462.21,309.85 L460.21,308.63 L458.21,309.85 L458.75,307.57 L456.97,306.05 L459.31,305.86Z" fill="white" stroke="#4fb4ea" stroke-width="1.2"/>
<path d="M475.29,298.80 L476.19,300.96 L478.52,301.15 L476.74,302.67 L477.28,304.95 L475.29,303.73 L473.29,304.95 L473.83,302.67 L472.05,301.15 L474.39,300.96Z" fill="white" stroke="#4fb4ea" stroke-width="1.2"/>
<path d="M490.36,296.80 L491.26,298.96 L493.60,299.15 L491.82,300.67 L492.36,302.95 L490.36,301.73 L488.37,302.95 L488.91,300.67 L487.13,299.15 L489.46,298.96Z" fill="white" stroke="#4fb4ea" stroke-width="1.2"/>
<path d="M505.44,298.10 L506.34,300.26 L508.68,300.45 L506.90,301.97 L507.44,304.25 L505.44,303.03 L503.44,304.25 L503.99,301.97 L502.21,300.45 L504.54,300.26Z" fill="white" stroke="#4fb4ea" stroke-width="1.2"/>
<path d="M520.52,303.40 L521.42,305.56 L523.76,305.75 L521.98,307.27 L522.52,309.55 L520.52,308.33 L518.52,309.55 L519.07,307.27 L517.29,305.75 L519.62,305.56Z" fill="white" stroke="#4fb4ea" stroke-width="1.2"/>
<path d="M535.60,314.10 L536.50,316.26 L538.83,316.45 L537.06,317.97 L537.60,320.25 L535.60,319.03 L533.60,320.25 L534.14,317.97 L532.37,316.45 L534.70,316.26Z" fill="white" stroke="#4fb4ea" stroke-width="1.2"/>
<circle cx="324.5" cy="357.4" r="3.0" fill="white" stroke="#c8262f" stroke-width="1.15"/>
<circle cx="339.58" cy="353.1" r="3.0" fill="white" stroke="#c8262f" stroke-width="1.15"/>
<circle cx="354.66" cy="345.6" r="3.0" fill="white" stroke="#c8262f" stroke-width="1.15"/>
<circle cx="369.74" cy="335.9" r="3.0" fill="white" stroke="#c8262f" stroke-width="1.15"/>
<circle cx="384.81" cy="324.9" r="3.0" fill="white" stroke="#c8262f" stroke-width="1.15"/>
<circle cx="399.89" cy="312.5" r="3.0" fill="white" stroke="#c8262f" stroke-width="1.15"/>
<circle cx="414.97" cy="299.4" r="3.0" fill="white" stroke="#c8262f" stroke-width="1.15"/>
<circle cx="430.05" cy="287.5" r="3.0" fill="white" stroke="#c8262f" stroke-width="1.15"/>
<circle cx="445.13" cy="276.9" r="3.0" fill="white" stroke="#c8262f" stroke-width="1.15"/>
<circle cx="460.21" cy="269.2" r="3.0" fill="white" stroke="#c8262f" stroke-width="1.15"/>
<circle cx="475.29" cy="265.4" r="3.0" fill="white" stroke="#c8262f" stroke-width="1.15"/>
<circle cx="490.36" cy="265.9" r="3.0" fill="white" stroke="#c8262f" stroke-width="1.15"/>
<circle cx="505.44" cy="270.8" r="3.0" fill="white" stroke="#c8262f" stroke-width="1.15"/>
<circle cx="520.52" cy="280.5" r="3.0" fill="white" stroke="#c8262f" stroke-width="1.15"/>
<circle cx="535.6" cy="296" r="3.0" fill="white" stroke="#c8262f" stroke-width="1.15"/>
<path d="M320.90,339.20 L328.10,339.20 L324.50,333.00Z" fill="white" stroke="#f3a11d" stroke-width="1.15" stroke-linejoin="miter"/>
<path d="M335.98,332.20 L343.18,332.20 L339.58,326.00Z" fill="white" stroke="#f3a11d" stroke-width="1.15" stroke-linejoin="miter"/>
<path d="M351.06,320.80 L358.26,320.80 L354.66,314.60Z" fill="white" stroke="#f3a11d" stroke-width="1.15" stroke-linejoin="miter"/>
<path d="M366.14,307.40 L373.34,307.40 L369.74,301.20Z" fill="white" stroke="#f3a11d" stroke-width="1.15" stroke-linejoin="miter"/>
<path d="M381.21,292.50 L388.41,292.50 L384.81,286.30Z" fill="white" stroke="#f3a11d" stroke-width="1.15" stroke-linejoin="miter"/>
<path d="M396.29,276.20 L403.49,276.20 L399.89,270.00Z" fill="white" stroke="#f3a11d" stroke-width="1.15" stroke-linejoin="miter"/>
<path d="M411.37,261.40 L418.57,261.40 L414.97,255.20Z" fill="white" stroke="#f3a11d" stroke-width="1.15" stroke-linejoin="miter"/>
<path d="M426.45,248.80 L433.65,248.80 L430.05,242.60Z" fill="white" stroke="#f3a11d" stroke-width="1.15" stroke-linejoin="miter"/>
<path d="M441.53,239.60 L448.73,239.60 L445.13,233.40Z" fill="white" stroke="#f3a11d" stroke-width="1.15" stroke-linejoin="miter"/>
<path d="M456.61,234.00 L463.81,234.00 L460.21,227.80Z" fill="white" stroke="#f3a11d" stroke-width="1.15" stroke-linejoin="miter"/>
<path d="M471.69,233.80 L478.89,233.80 L475.29,227.60Z" fill="white" stroke="#f3a11d" stroke-width="1.15" stroke-linejoin="miter"/>
<path d="M486.76,238.80 L493.96,238.80 L490.36,232.60Z" fill="white" stroke="#f3a11d" stroke-width="1.15" stroke-linejoin="miter"/>
<path d="M501.84,248.70 L509.04,248.70 L505.44,242.50Z" fill="white" stroke="#f3a11d" stroke-width="1.15" stroke-linejoin="miter"/>
<path d="M516.92,263.70 L524.12,263.70 L520.52,257.50Z" fill="white" stroke="#f3a11d" stroke-width="1.15" stroke-linejoin="miter"/>
<path d="M532.00,283.30 L539.20,283.30 L535.60,277.10Z" fill="white" stroke="#f3a11d" stroke-width="1.15" stroke-linejoin="miter"/>
</g>
<path d="M324.5,213.8 H535.6 V383.4 H324.5 Z" fill="none" stroke="#080808" stroke-width="1.5"/>
<line x1="334.3" y1="226.2" x2="356.1" y2="226.2" stroke="#4fb4ea" stroke-width="1" />
<path d="M345.20,223.50 L346.07,225.60 L348.34,225.78 L346.61,227.26 L347.14,229.47 L345.20,228.28 L343.26,229.47 L343.79,227.26 L342.06,225.78 L344.33,225.60Z" fill="white" stroke="#4fb4ea" stroke-width="1.2"/>
<text x="357.7" y="229.4" font-size="8.2" font-weight="bold" font-style="normal" text-anchor="start" fill="#080808" ><tspan font-style="italic">P</tspan>=10<tspan font-size="5.5" dy="-3.2">-3</tspan></text>
<line x1="334.3" y1="239.2" x2="356.1" y2="239.2" stroke="#c8262f" stroke-width="1" />
<circle cx="345.2" cy="239.2" r="3.1" fill="white" stroke="#c8262f" stroke-width="1.4"/>
<text x="357.7" y="242.4" font-size="8.2" font-weight="bold" font-style="normal" text-anchor="start" fill="#080808" ><tspan font-style="italic">P</tspan>=10<tspan font-size="5.5" dy="-3.2">-4</tspan></text>
<line x1="334.3" y1="251" x2="356.1" y2="251" stroke="#f3a11d" stroke-width="1" />
<path d="M341.20,254.25 L349.20,254.25 L345.20,247.75Z" fill="white" stroke="#f3a11d" stroke-width="1.4" stroke-linejoin="miter"/>
<text x="357.7" y="254.2" font-size="8.2" font-weight="bold" font-style="normal" text-anchor="start" fill="#080808" ><tspan font-style="italic">P</tspan>=10<tspan font-size="5.5" dy="-3.2">-5</tspan></text>
<text x="286" y="212.9" font-size="11.3" font-weight="bold" font-style="normal" text-anchor="start" fill="#080808" >(d)</text>
<text transform="translate(292.8,294) rotate(-90)" text-anchor="middle" font-size="15" font-weight="normal" font-style="italic" fill="#080808">η<tspan font-size="10" font-weight="bold" font-style="normal" dy="3">en</tspan></text>
<text x="412" y="415" font-size="11.6" font-weight="bold" fill="#080808"><tspan font-style="italic">T</tspan><tspan font-size="8" dy="2.6" dx="-0.9">red</tspan><tspan dy="-2.6" font-size="11.2"> (K)</tspan></text>
</svg>
</body></html>
